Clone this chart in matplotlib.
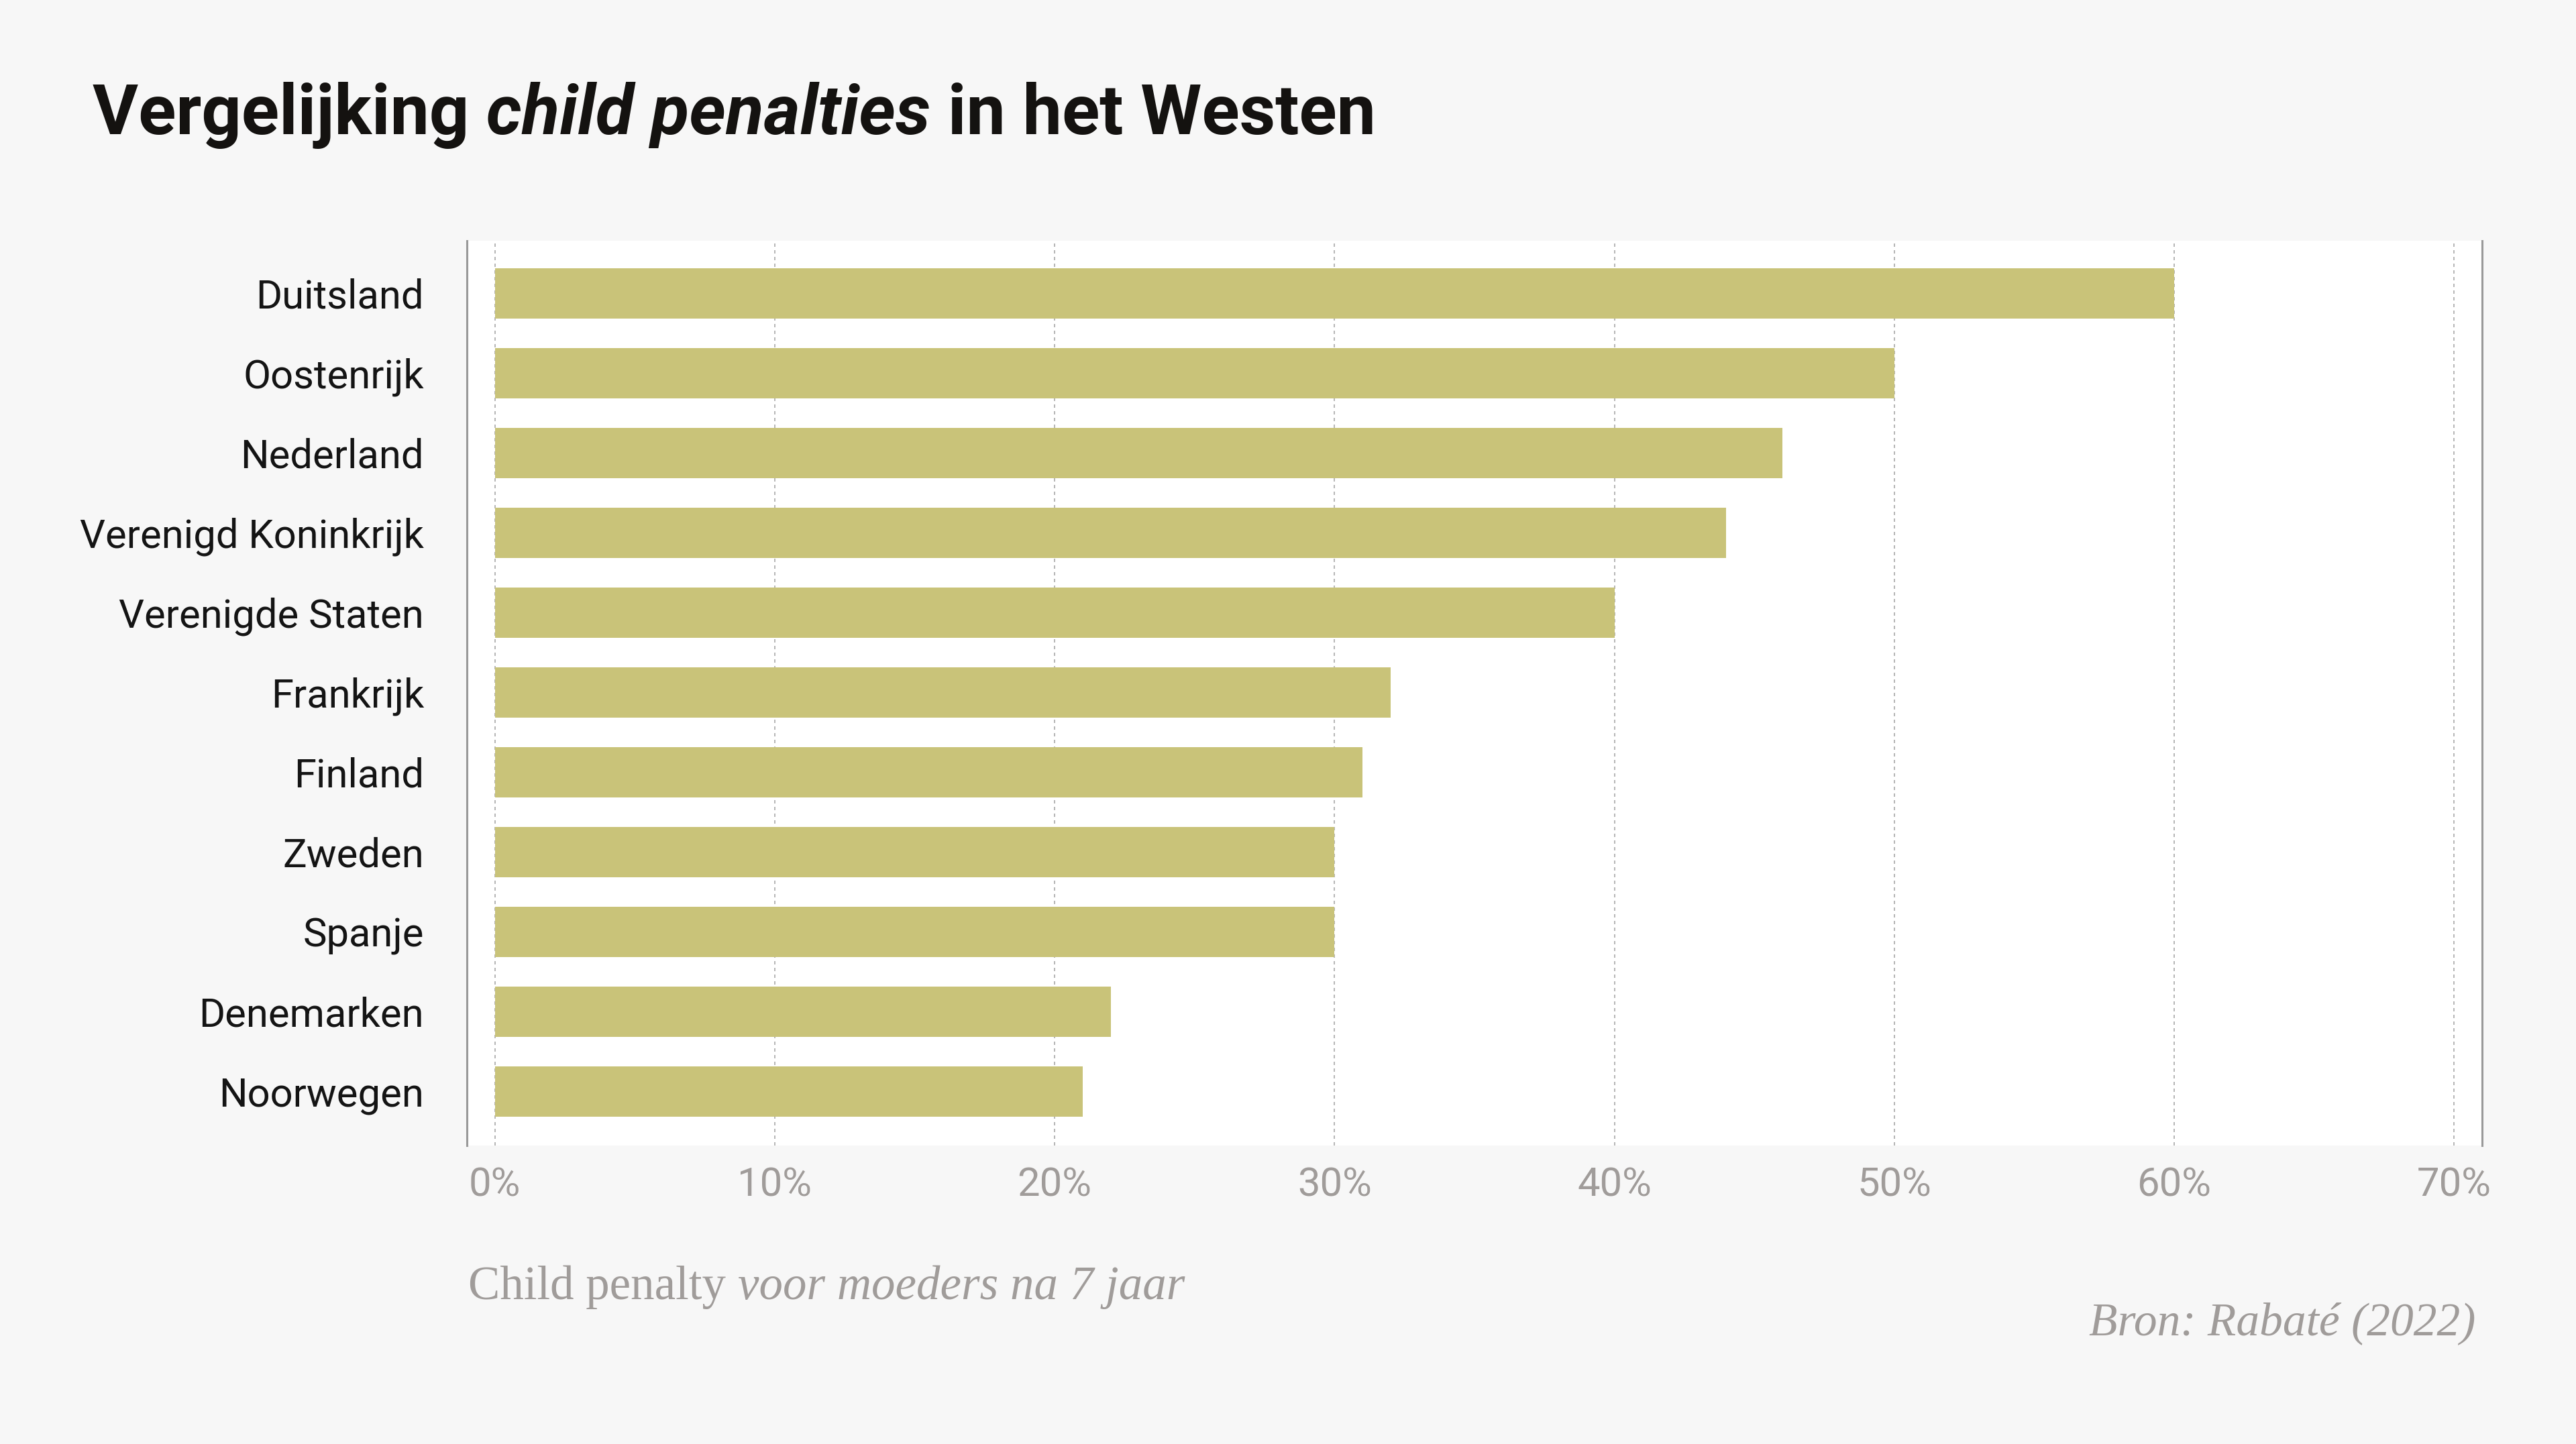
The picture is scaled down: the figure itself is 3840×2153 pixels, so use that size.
import matplotlib
matplotlib.use("Agg")
import matplotlib.pyplot as plt
from matplotlib.ticker import FixedLocator

# data (child penalty after 7 years, in %)
countries = ["Duitsland", "Oostenrijk", "Nederland", "Verenigd Koninkrijk",
             "Verenigde Staten", "Frankrijk", "Finland", "Zweden", "Spanje",
             "Denemarken", "Noorwegen"]
penalties = [60, 50, 46, 44, 40, 32, 31, 30, 30, 22, 21]
x_ticks = [0, 10, 20, 30, 40, 50, 60, 70]
x_tick_labels = ["0%", "10%", "20%", "30%", "40%", "50%", "60%", "70%"]

SANS = ["Liberation Sans Narrow", "Roboto", "DejaVu Sans"]
SERIF = ["Liberation Serif", "DejaVu Serif"]
GREY_TEXT = "#a09c9a"
BAR_COLOR = "#c9c379"

fig = plt.figure(figsize=(38.4, 21.53), dpi=100, facecolor="#f7f7f7")
ax = fig.add_axes([0.18125, 0.2067, 0.9635 - 0.18125, 0.8333 - 0.2067])
ax.set_facecolor("white")

y = list(range(len(countries)))
ax.barh(y, penalties, height=0.63, color=BAR_COLOR, zorder=2)
ax.set_ylim(len(countries) - 1 + 0.68, -0.66)
ax.set_xlim(-1, 71)

ax.xaxis.set_major_locator(FixedLocator(x_ticks))
ax.set_xticklabels(x_tick_labels, family=SANS, fontsize=43, color=GREY_TEXT)
ax.set_yticks(y)
ax.set_yticklabels(countries, family=SANS, fontsize=43, color="#141414")
ax.tick_params(axis="x", length=0, pad=22)
ax.tick_params(axis="y", length=0, pad=46)

ax.grid(axis="x", color="#a8a8a8", linewidth=1.2, linestyle=(0, (3, 3)),
        zorder=1)
ax.grid(axis="y", visible=False)

for side in ["top", "bottom"]:
    ax.spines[side].set_visible(False)
for side in ["left", "right"]:
    ax.spines[side].set_color("#999999")
    ax.spines[side].set_linewidth(2.2)

# title with italic middle part, placed piece by piece
renderer = fig.canvas.get_renderer()
x_pos = 0.0359
title_y = 1 - 200 / 2153
pieces = [("Vergelijking ", "normal"), ("child penalties", "italic"),
          (" in het Westen", "normal")]
for txt, style in pieces:
    t = fig.text(x_pos, title_y, txt, family=SANS, fontsize=75,
                 fontweight="bold", style=style, color="#141210",
                 va="baseline", ha="left")
    bb = t.get_window_extent(renderer=renderer)
    x_pos = bb.x1 / fig.bbox.width

# footer: axis description and source
x_pos = 698 / 3840
foot_y = 1 - 1937 / 2153
for txt, style in [("Child penalty ", "normal"),
                   ("voor moeders na 7 jaar", "italic")]:
    t = fig.text(x_pos, foot_y, txt, family=SERIF, fontsize=51,
                 style=style, color=GREY_TEXT, va="baseline", ha="left")
    bb = t.get_window_extent(renderer=renderer)
    x_pos = bb.x1 / fig.bbox.width

fig.text(3690 / 3840, 1 - 1990 / 2153, "Bron: Rabaté (2022)", family=SERIF,
         fontsize=50, style="italic", color=GREY_TEXT, va="baseline",
         ha="right")

fig.savefig("out.png", dpi=100, facecolor=fig.get_facecolor())
